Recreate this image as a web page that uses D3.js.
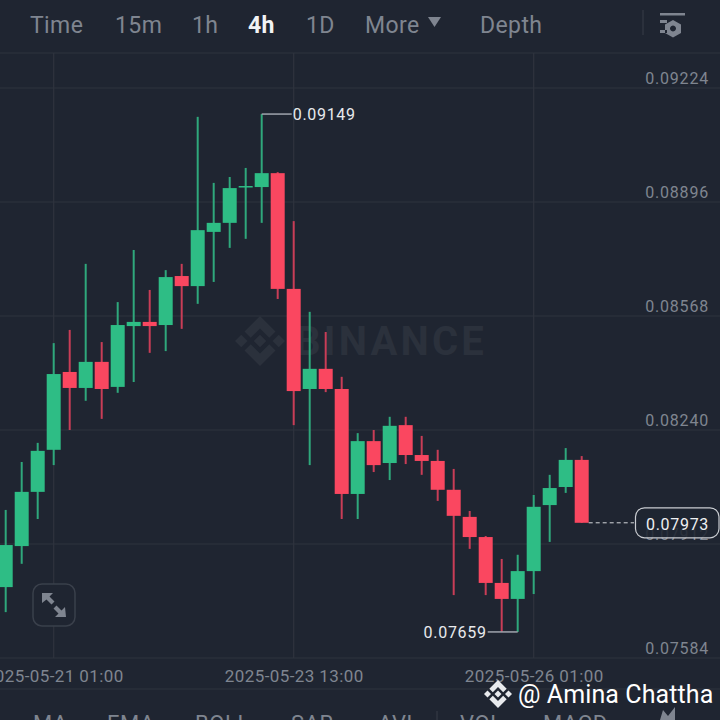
<!DOCTYPE html>
<html>
<head>
<meta charset="utf-8">
<script src="https://cdn.jsdelivr.net/npm/d3@7"></script>
<style>
  html, body { margin: 0; padding: 0; background: #1f2531; overflow: hidden; }
  text { font-family: Roboto, sans-serif; }
</style>
</head>
<body>
<svg id="chart" width="720" height="720"></svg>
<script>
// candles, 4h, oldest first
const open  = [0.07788,0.07906,0.08062,0.08183,0.08407,0.08361,0.08436,0.08364,0.08539,0.08551,0.08542,0.08683,0.08654,0.08810,0.08836,0.08939,0.08939,0.08979,0.08646,0.08358,0.08416,0.08358,0.08056,0.08208,0.08145,0.08254,0.08168,0.08151,0.08068,0.07990,0.07932,0.07800,0.07754,0.07834,0.08024,0.08076,0.08154];
const high  = [0.08010,0.08148,0.08203,0.08490,0.08528,0.08718,0.08493,0.08608,0.08758,0.08643,0.08700,0.08718,0.09141,0.08951,0.08968,0.08994,0.09149,0.08982,0.08841,0.08580,0.08522,0.08393,0.08231,0.08240,0.08278,0.08278,0.08223,0.08183,0.08128,0.08007,0.07935,0.07869,0.07881,0.08053,0.08111,0.08188,0.08165];
const low   = [0.07716,0.07855,0.07984,0.08139,0.08240,0.08324,0.08272,0.08347,0.08378,0.08462,0.08467,0.08531,0.08603,0.08666,0.08764,0.08790,0.08836,0.08617,0.08254,0.08139,0.08349,0.07984,0.07984,0.08119,0.08096,0.08142,0.08111,0.08036,0.07765,0.07898,0.07765,0.07659,0.07659,0.07768,0.07918,0.08059,0.07973];
const close = [0.07909,0.08062,0.08180,0.08401,0.08361,0.08436,0.08358,0.08542,0.08551,0.08539,0.08680,0.08654,0.08815,0.08836,0.08936,0.08942,0.08979,0.08646,0.08352,0.08416,0.08358,0.08056,0.08208,0.08139,0.08252,0.08168,0.08151,0.08068,0.07993,0.07932,0.07800,0.07754,0.07834,0.08019,0.08073,0.08154,0.07973];

const priceTicks = [0.09224,0.08896,0.08568,0.08240,0.07912,0.07584];
const timeTickIdx = [3,18,33];
const timeTickLabels = ["2025-05-21 01:00","2025-05-23 13:00","2025-05-26 01:00"];
const highLabel = "0.09149";
const lowLabel = "0.07659";
const lastLabel = "0.07973";

const topTabs = ["Time","15m","1h","4h","1D","More","Depth"];
const topTabX = [30,115,192,248,306,365,480];
const bottomTabs = ["MA","EMA","BOLL","SAR","AVL","VOL","MACD"];
const bottomTabX = [33,107,195,291,378,460,543];

const bg = "#1f2531", grid = "#2f343f", axisText = "#7f8590";
const green = "#2ebd85", red = "#fa4760";
const greenWick = "#2fa87c", redWick = "#c93d57";

const svg = d3.select("#chart");
const x = d3.scaleLinear().domain([0, open.length - 1]).range([5.7, 581.7]);
const y = d3.scaleLinear().domain([0.07584, 0.09224]).range([658, 88]);

svg.append("rect").attr("width", 720).attr("height", 720).attr("fill", bg);

// grid
svg.append("g").selectAll("line").data(priceTicks).enter().append("line")
  .attr("x1", 0).attr("x2", 720)
  .attr("y1", d => y(d)).attr("y2", d => y(d))
  .attr("stroke", grid).attr("stroke-width", 1.2);
svg.append("g").selectAll("line").data(timeTickIdx).enter().append("line")
  .attr("x1", d => x(d)).attr("x2", d => x(d))
  .attr("y1", 53).attr("y2", 658)
  .attr("stroke", grid).attr("stroke-width", 1.2);
[53, 689].forEach(v => {
  svg.append("line").attr("x1", 0).attr("x2", 720).attr("y1", v).attr("y2", v)
    .attr("stroke", grid).attr("stroke-width", 1.2);
});

// logo shapes, unit box
const logoParts = [
  [[0,-.25],[.25,0],[0,.25],[-.25,0]],
  [[-1,0],[-.75,-.25],[-.5,0],[-.75,.25]],
  [[1,0],[.75,-.25],[.5,0],[.75,.25]],
  [[0,-1],[.62,-.38],[.37,-.13],[0,-.5],[-.37,-.13],[-.62,-.38]],
  [[0,1],[.62,.38],[.37,.13],[0,.5],[-.37,.13],[-.62,.38]]
];
function drawLogo(cx, cy, r, color) {
  const line = d3.line().x(d => cx + d[0] * r).y(d => cy + d[1] * r).curve(d3.curveLinearClosed);
  svg.append("g").selectAll("path").data(logoParts).enter().append("path")
    .attr("d", line).attr("fill", color);
}

// watermark
drawLogo(260, 341, 25, "#2b313c");
svg.append("text").attr("x", 295).attr("y", 355).attr("fill", "#2b313c")
  .attr("font-size", 40).attr("font-weight", 700).attr("letter-spacing", 3.2).text("BINANCE");

// candles
const idx = d3.range(open.length);
const isUp = i => close[i] >= open[i];
svg.append("g").selectAll("line").data(idx).enter().append("line")
  .attr("x1", i => x(i)).attr("x2", i => x(i))
  .attr("y1", i => y(high[i])).attr("y2", i => y(low[i]))
  .attr("stroke", i => isUp(i) ? greenWick : redWick)
  .attr("stroke-width", 2);
svg.append("g").selectAll("rect").data(idx).enter().append("rect")
  .attr("x", i => x(i) - 7).attr("width", 14)
  .attr("y", i => y(Math.max(open[i], close[i])))
  .attr("height", i => Math.max(1.5, Math.abs(y(open[i]) - y(close[i]))))
  .attr("fill", i => isUp(i) ? green : red);

// price axis
const yAxis = d3.axisLeft(y).tickValues(priceTicks).tickSize(0).tickFormat(d3.format(".5f"));
const yG = svg.append("g").attr("transform", "translate(709,0)").call(yAxis);
yG.select(".domain").remove();
yG.selectAll("text")
  .attr("x", 0).attr("dy", "-0.3em").attr("text-anchor", "end")
  .attr("fill", axisText).attr("font-size", 16).attr("letter-spacing", 0.8)
  .style("font-family", "Roboto, sans-serif");

// time axis
const xAxis = d3.axisBottom(x).tickValues(timeTickIdx).tickSize(0)
  .tickFormat((d, i) => timeTickLabels[i]);
const xG = svg.append("g").attr("transform", "translate(0,668)").call(xAxis);
xG.select(".domain").remove();
xG.selectAll("text")
  .attr("y", 0).attr("dy", "0.8em").attr("fill", axisText).attr("font-size", 17)
  .attr("letter-spacing", 0.4)
  .style("font-family", "Roboto, sans-serif");

// high / low markers
const hiI = d3.maxIndex(high), loI = d3.minIndex(low);
svg.append("line").attr("x1", x(hiI)).attr("x2", x(hiI) + 30)
  .attr("y1", y(high[hiI])).attr("y2", y(high[hiI])).attr("stroke", "#a0a5ad").attr("stroke-width", 1.5);
svg.append("text").attr("x", x(hiI) + 31).attr("y", y(high[hiI])).attr("dy", "0.36em")
  .attr("fill", "#e8eaed").attr("font-size", 16).attr("letter-spacing", 0.7).text(highLabel);
const loX = x(open.length - 5);
svg.append("line").attr("x1", loX).attr("x2", loX - 30)
  .attr("y1", y(low[loI])).attr("y2", y(low[loI])).attr("stroke", "#a0a5ad").attr("stroke-width", 1.5);
svg.append("text").attr("x", loX - 31).attr("y", y(low[loI])).attr("dy", "0.36em")
  .attr("text-anchor", "end").attr("fill", "#e8eaed").attr("font-size", 16).attr("letter-spacing", 0.7).text(lowLabel);

// last price
const lastY = y(close[close.length - 1]);
svg.append("line").attr("x1", x(close.length - 1) + 7).attr("x2", 634)
  .attr("y1", lastY).attr("y2", lastY)
  .attr("stroke", "#d5d8dc").attr("stroke-width", 1).attr("stroke-dasharray", "4 3");
svg.append("rect").attr("x", 635.5).attr("y", lastY - 15).attr("width", 83.5).attr("height", 30).attr("rx", 9)
  .attr("fill", bg).attr("fill-opacity", 0.88).attr("stroke", "#c9ccd1").attr("stroke-width", 1.2);
svg.append("text").attr("x", 677.5).attr("y", lastY + 1).attr("dy", "0.36em").attr("text-anchor", "middle")
  .attr("fill", "#eef0f2").attr("font-size", 16).attr("letter-spacing", 0.7).text(lastLabel);

// expand button
svg.append("rect").attr("x", 33).attr("y", 584).attr("width", 42).attr("height", 42).attr("rx", 9)
  .attr("fill", bg).attr("stroke", "#3a404b").attr("stroke-width", 1.5);
svg.append("path").attr("fill", "#7f8590")
  .attr("d", "M42 593h11l-3.5 3.5 5 5-3 3-5-5-4.500 3.500z M66 617h-11l3.500-3.500-5-5 3-3 5 5 3.500-3.500z");

// top tabs
svg.append("g").selectAll("text").data(topTabs).enter().append("text")
  .attr("x", (d, i) => topTabX[i]).attr("y", 33)
  .attr("font-size", 23).attr("letter-spacing", 0.4)
  .attr("font-weight", d => d === "4h" ? 700 : 400)
  .attr("fill", d => d === "4h" ? "#f2f3f5" : axisText)
  .text(d => d);
svg.append("path").attr("fill", axisText).attr("d", "M428 17h13l-6.500 10z");
svg.append("line").attr("x1", 643).attr("x2", 643).attr("y1", 10).attr("y2", 35)
  .attr("stroke", "#343a45").attr("stroke-width", 1.2);
svg.append("path").attr("fill", axisText)
  .attr("d", "M660 13h25v2.500h-25z M660 20h7v3h-7z M660 30h7v3h-7z M673 20l8 4.500v8.500l-8 4.500-8-4.500v-8.500z M673 25.500a3 3 0 1 0 .01 0z")
  .attr("fill-rule", "evenodd");

// bottom tabs, cut off by the window
svg.append("g").selectAll("text").data(bottomTabs).enter().append("text")
  .attr("x", (d, i) => bottomTabX[i]).attr("y", 731)
  .attr("font-size", 22).attr("letter-spacing", 0.6)
  .attr("fill", axisText).text(d => d);
svg.append("line").attr("x1", 437).attr("x2", 437).attr("y1", 711).attr("y2", 720)
  .attr("stroke", "#343a45").attr("stroke-width", 1.2);
svg.append("path").attr("fill", axisText).attr("d", "M660 720l3-10 5 6 7-9v13z");

// signature
drawLogo(498, 694, 14, "#e8eaed");
svg.append("text").attr("x", 518).attr("y", 703).attr("fill", "#ffffff")
  .attr("font-size", 25).attr("letter-spacing", 0.1).text("@ Amina Chattha");
</script>
</body>
</html>
